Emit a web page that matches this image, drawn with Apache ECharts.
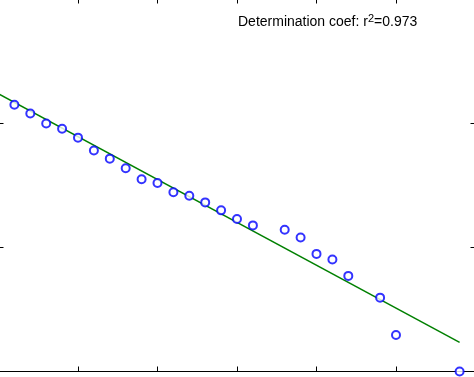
<!DOCTYPE html>
<html>
<head>
<meta charset="utf-8">
<script src="https://cdn.jsdelivr.net/npm/echarts@6/dist/echarts.min.js"></script>
<style>
  html, body { margin: 0; padding: 0; background: #fff; }
  #chart { width: 474px; height: 377px; }
</style>
</head>
<body>
<div id="chart"></div>
<script>
// measured points (blue circles)
const xValues = [0.2, 0.4, 0.6, 0.8, 1.0, 1.2, 1.4, 1.6, 1.8, 2.0, 2.2, 2.4, 2.6, 2.8, 3.0, 3.2, 3.6, 3.8, 4.0, 4.2, 4.4, 4.8, 5.0, 5.8]
const yValues = [2.145, 2.075, 1.994, 1.952, 1.881, 1.777, 1.712, 1.635, 1.546, 1.516, 1.441, 1.414, 1.360, 1.296, 1.226, 1.175, 1.140, 1.078, 0.946, 0.901, 0.769, 0.594, 0.293, 0.0]

// linear fit line
const fitX = [0, 5.8]
const fitY = [2.234, 0.234]

const coefText = 'Determination coef: r'
const coefValue = '=0.973'

const chart = echarts.init(document.getElementById('chart'))

// shared axis look: black frame, ticks pointing inward, no labels
const axisCommon = {
  type: 'value',
  interval: 1,
  axisLine: { show: true, onZero: false, lineStyle: { color: '#000', width: 1 } },
  axisTick: { show: true, inside: true, length: 5, lineStyle: { color: '#000', width: 1 } },
  axisLabel: { show: false },
  splitLine: { show: false }
}

chart.setOption({
  animation: false,
  backgroundColor: '#fff',
  // plot frame sits just outside the visible area (cropped figure)
  grid: { left: -1.5, top: -1.5, width: 477, height: 373, outerBoundsMode: 'none', containLabel: false },
  title: {
    left: 238,
    top: 13,
    padding: 0,
    text: '{a|' + coefText + '}{sup|2}{a|' + coefValue + '}',
    textStyle: {
      fontWeight: 'normal',
      rich: {
        a: { fontFamily: 'Liberation Sans', fontSize: 14, fontWeight: 'normal', color: '#000', lineHeight: 16, verticalAlign: 'bottom' },
        sup: { fontFamily: 'Liberation Sans', fontSize: 11, fontWeight: 'normal', color: '#000', lineHeight: 12, padding: [0, 0, 5, 0], verticalAlign: 'bottom' }
      }
    }
  },
  xAxis: [
    Object.assign({}, axisCommon, { position: 'bottom', min: 0, max: 6 }),
    Object.assign({}, axisCommon, { position: 'top', min: 0, max: 6 })
  ],
  yAxis: [
    Object.assign({}, axisCommon, { position: 'left', min: 0, max: 3 }),
    Object.assign({}, axisCommon, { position: 'right', min: 0, max: 3 })
  ],
  series: [
    {
      type: 'line',
      data: fitX.map((x, i) => [x, fitY[i]]),
      showSymbol: false,
      lineStyle: { color: '#008000', width: 1.5 },
      z: 2
    },
    {
      type: 'scatter',
      data: xValues.map((x, i) => [x, yValues[i]]),
      symbol: 'emptyCircle',
      symbolSize: 8,
      clip: false,
      itemStyle: { color: '#0000ff', borderColor: '#0000ff', borderWidth: 1.4 },
      z: 3
    }
  ]
})
</script>
</body>
</html>
